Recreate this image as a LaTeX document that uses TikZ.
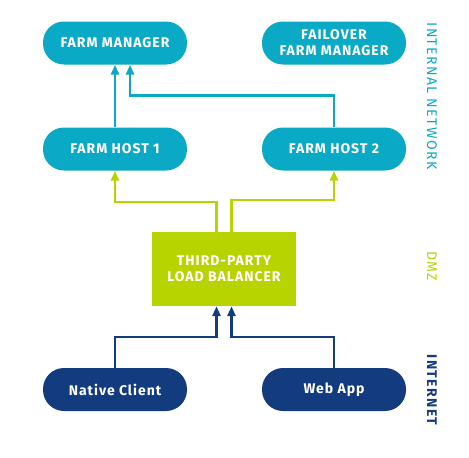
\documentclass[tikz,border=0pt]{standalone}
\usepackage{fontspec}
\setmainfont{Fira Sans}
\newfontfamily\capsfont{Fira Sans}[LetterSpace=7]
\newfontfamily\zonefont{Fira Sans}[LetterSpace=10]
\usetikzlibrary{arrows.meta}
\definecolor{netteal}{HTML}{0AA9C6}
\definecolor{dmzlime}{HTML}{B7D300}
\definecolor{webnavy}{HTML}{133C7F}
\tikzset{
  pill/.style={fill=#1, text=white, rounded corners=21pt, minimum width=144pt, minimum height=43pt, align=center, font=\capsfont\bfseries\fontsize{14}{16}\selectfont, inner sep=0pt},
  link/.style={draw=#1, line width=2.5pt, -{Triangle[length=10pt,width=8pt]}},
  zone/.style={text=#1, rotate=-90, font=\zonefont\fontsize{14}{16}\selectfont}
}
\begin{document}
\begin{tikzpicture}[x=1pt, y=-1pt]
\useasboundingbox (0,0) rectangle (469,458);
\node[pill=netteal] (fm) at (115,43) {FARM MANAGER};
\node[pill=netteal] (fail) at (334,43) {FAILOVER\\FARM MANAGER};
\node[pill=netteal] (host1) at (115,149) {FARM HOST 1};
\node[pill=netteal] (host2) at (334,149) {FARM HOST 2};
\node[pill=dmzlime, rounded corners=0pt, minimum height=74pt] (lb) at (224,269) {THIRD-PARTY\\LOAD BALANCER};
\node[pill=webnavy] (nc) at (115,389.5) {Native Client};
\node[pill=webnavy] (web) at (334,389.5) {Web App};
\node[zone=netteal] (intnet) at (432,96) {INTERNAL NETWORK};
\node[zone=dmzlime] (dmz) at (432,266) {DMZ};
\node[zone=webnavy, font=\zonefont\bfseries\fontsize{14}{16}\selectfont] (inet) at (432,390) {INTERNET};
\draw[link=netteal] (host1.north) -- (fm.south);
\draw[link=netteal] (host2.north) -- ++(0,-32) -| ([xshift=15pt]fm.south);
\draw[link=dmzlime] ([xshift=-7.5pt]lb.north) -- ++(0,-30) -| (host1.south);
\draw[link=dmzlime] ([xshift=7.5pt]lb.north) -- ++(0,-32) -| (host2.south);
\draw[link=webnavy] (nc.north) -- ++(0,-31) -| ([xshift=-7.5pt]lb.south);
\draw[link=webnavy] (web.north) -- ++(0,-31) -| ([xshift=7.5pt]lb.south);
\end{tikzpicture}
\end{document}
